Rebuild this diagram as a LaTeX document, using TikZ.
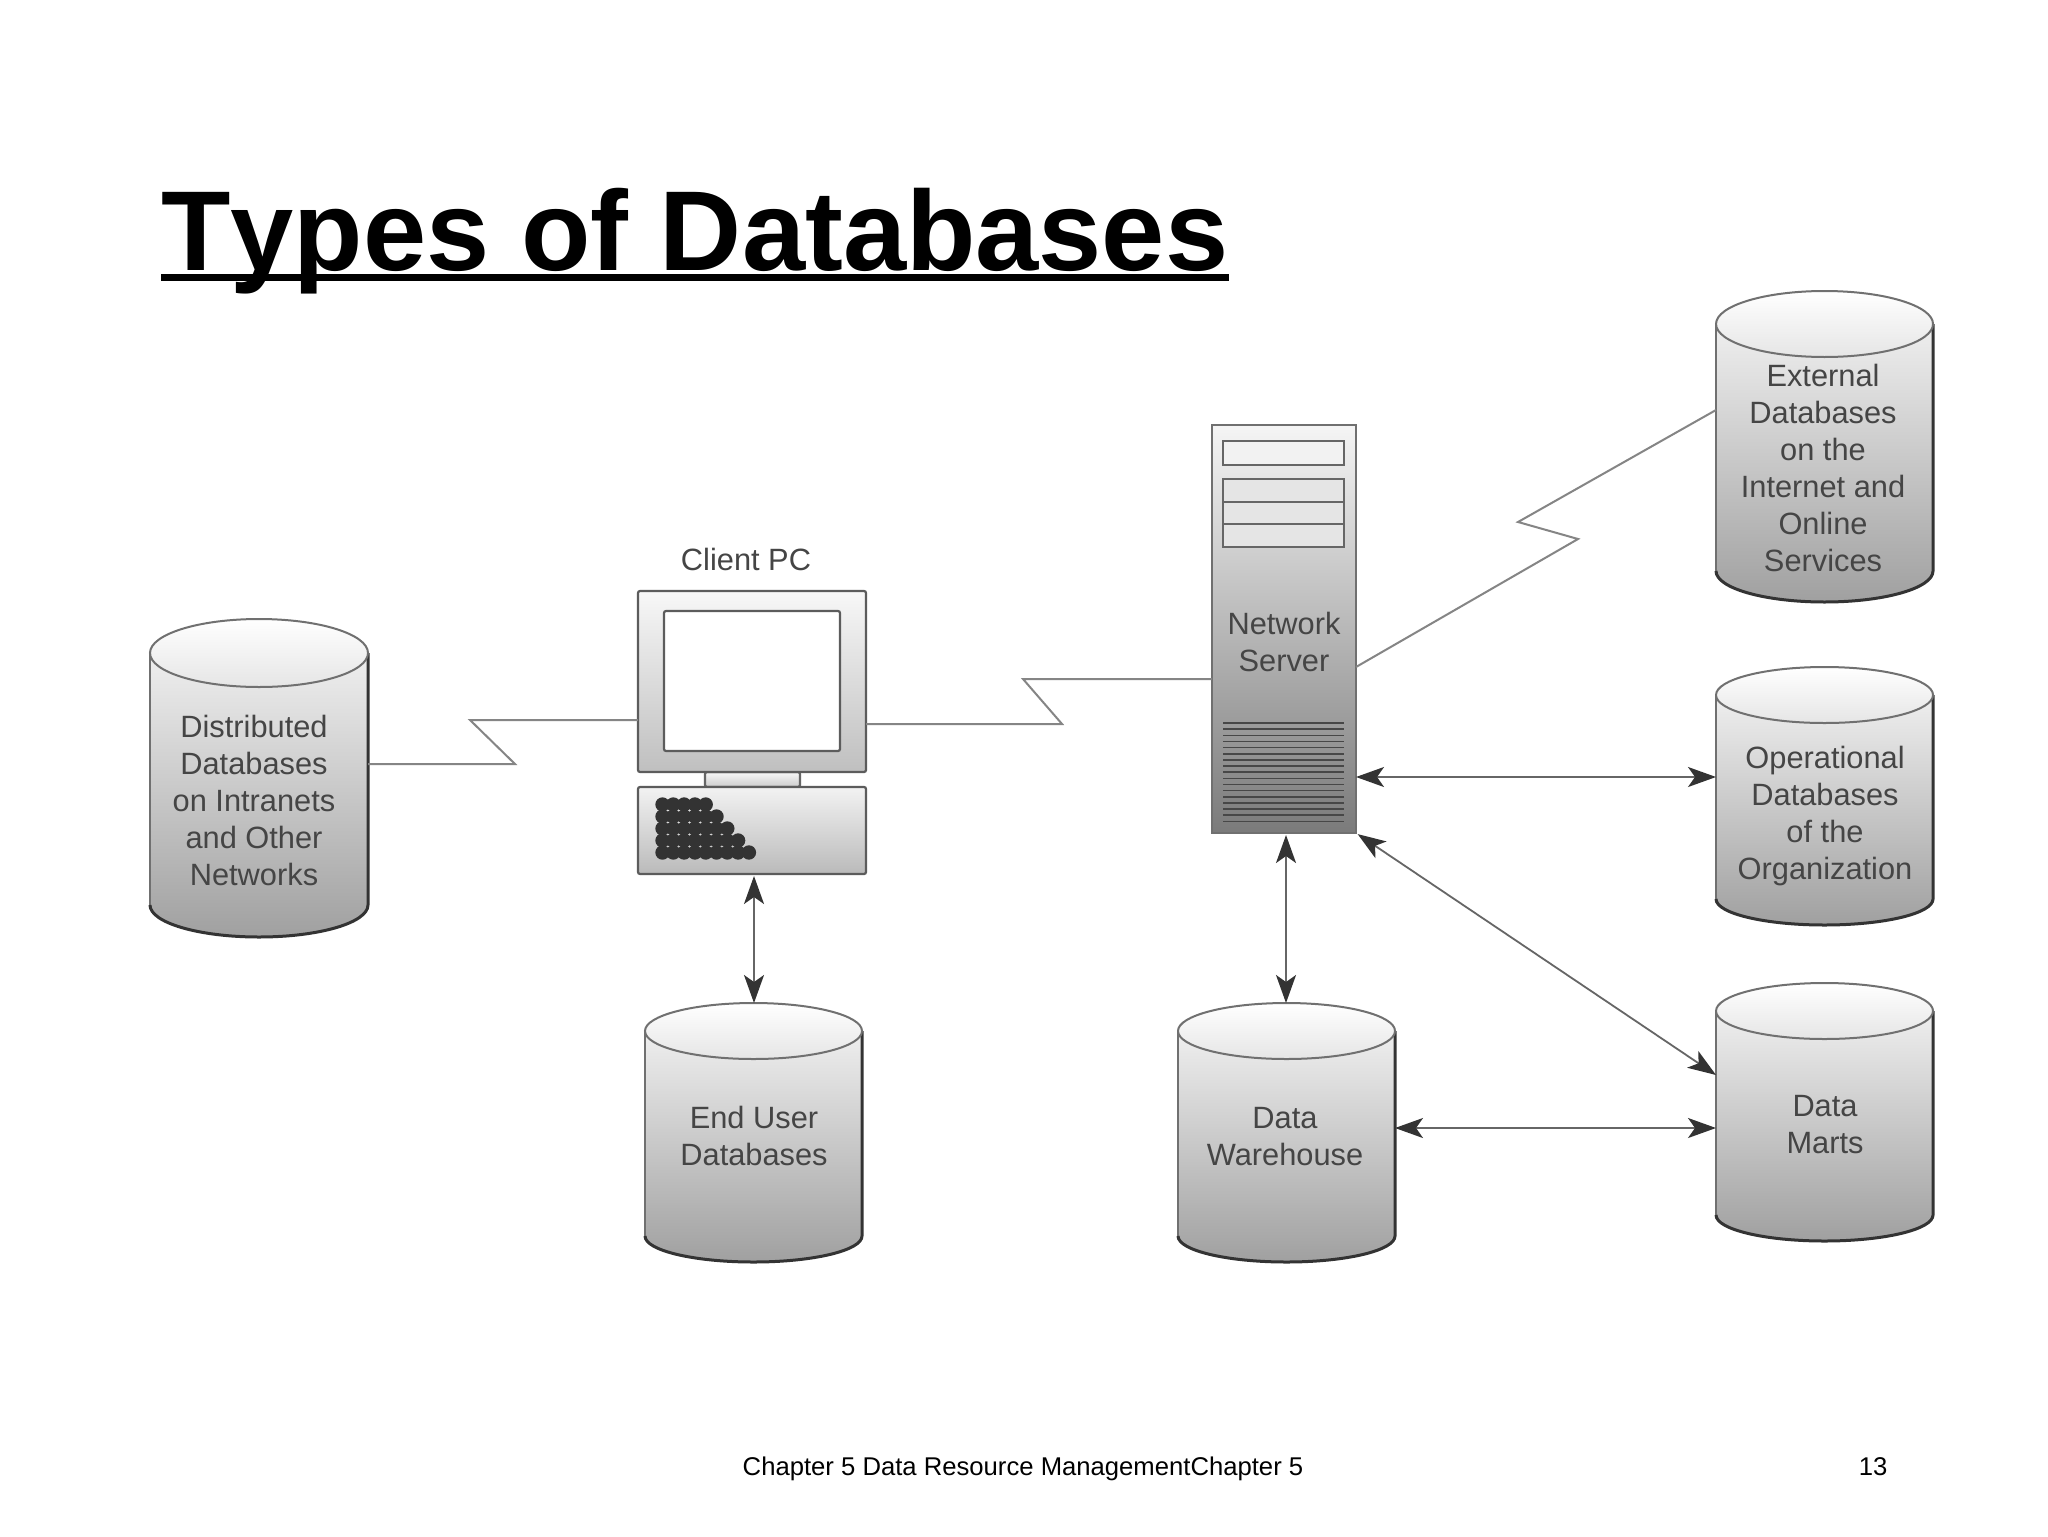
\documentclass[tikz,border=0pt]{standalone}
\usepackage{fontspec}
\setmainfont{Liberation Sans}
\newfontfamily\titlefont[Kerning=Off]{Liberation Sans}
\usetikzlibrary{arrows.meta}
\definecolor{lbl}{HTML}{454545}
\definecolor{edge}{HTML}{707070}
\definecolor{dark}{HTML}{333333}
\definecolor{bodytop}{HTML}{EFEFEF}
\definecolor{bodybot}{HTML}{A0A0A0}
\tikzset{
  lab/.style={font=\fontsize{15.4}{18.5}\selectfont,text=lbl,align=center,inner sep=0pt},
  zig/.style={draw=edge!85,line width=1pt,line join=miter},
  biarrow/.style={draw=black!60,line width=.9pt,{Stealth[length=14pt,width=10pt,inset=3.5pt,color=dark]}-{Stealth[length=14pt,width=10pt,inset=3.5pt,color=dark]}},
  anchorbox/.style={inner sep=0pt,outer sep=0pt,rectangle},
  hw/.style={anchorbox,draw=dark!80,line width=1.1pt,rounded corners=1pt},
  innerbox/.style={draw=dark!75,line width=1pt},
}
% name, x1, x2, top, bottom, ry, text x, text y, text
\newcommand{\dbcyl}[9]{%
  \pgfmathsetmacro{\xm}{(#2+#3)/2}%
  \pgfmathsetmacro{\rx}{(#3-#2)/2}%
  \pgfmathsetmacro{\ym}{#4+#6}%
  \pgfmathsetmacro{\ys}{#5-#6+2}%
  \pgfmathsetmacro{\rb}{#6-2}%
  \pgfmathsetmacro{\cxl}{\xm-0.5523*\rx}%
  \pgfmathsetmacro{\cxr}{\xm+0.5523*\rx}%
  \pgfmathsetmacro{\cyb}{\ys+0.5523*\rb}%
  \pgfmathsetmacro{\cyt}{\ym-0.5523*#6}%
  \pgfmathsetmacro{\cyi}{\ym+0.5523*#6}%
  \pgfmathsetmacro{\yi}{\ym+#6}%
  \shade[top color=bodytop,bottom color=bodybot]
    (#2,\ym) -- (#2,\ys) .. controls (#2,\cyb) and (\cxl,#5) .. (\xm,#5)
    .. controls (\cxr,#5) and (#3,\cyb) .. (#3,\ys) -- (#3,\ym) -- cycle;
  \draw[edge,line width=1pt] (#2,\ym) -- (#2,\ys);
  \draw[dark,line width=1.5pt] (#3,\ym) -- (#3,\ys) .. controls (#3,\cyb) and (\cxr,#5) .. (\xm,#5)
    .. controls (\cxl,#5) and (#2,\cyb) .. (#2,\ys);
  \shade[top color=white,bottom color=black!10,draw=edge,line width=1pt]
    (#2,\ym) .. controls (#2,\cyt) and (\cxl,#4) .. (\xm,#4)
    .. controls (\cxr,#4) and (#3,\cyt) .. (#3,\ym)
    .. controls (#3,\cyi) and (\cxr,\yi) .. (\xm,\yi)
    .. controls (\cxl,\yi) and (#2,\cyi) .. (#2,\ym) -- cycle;
  \node[anchorbox,minimum width={(#3-#2)*0.5pt},minimum height={(#5-#4)*0.5pt}] (#1) at (\xm,{(#4+#5)/2}) {};
  \node[lab] (#1 label) at (#7,#8) {#9};
}
\begin{document}
\begin{tikzpicture}[x=0.5pt,y=-0.5pt]
\path[use as bounding box,fill=white] (0,0) rectangle (2048,1536);

% title
\node[anchor=base west,inner sep=0pt,font=\titlefont\fontsize{56.8}{60}\bfseries\selectfont] (title) at (161,270) {Types of Databases};
\draw[line width=3.5pt] (title.base west |- 0,277) -- (title.base east |- 0,277);

% cylinders
\dbcyl{dist}{150}{368}{619}{937}{34}{254}{800}{Distributed\\Databases\\on Intranets\\and Other\\Networks}
\dbcyl{ext}{1716}{1933}{291}{602}{33}{1823}{468}{External\\Databases\\on the\\Internet and\\Online\\Services}
\dbcyl{oper}{1716}{1933}{667}{925}{28}{1825}{816}{Operational\\Databases\\of the\\Organization}
\dbcyl{marts}{1716}{1933}{983}{1241}{28}{1825}{1125}{Data\\Marts}
\dbcyl{enduser}{645}{862}{1003}{1262}{28}{754}{1136}{End User\\Databases}
\dbcyl{wareh}{1178}{1395}{1003}{1262}{28}{1285}{1137}{Data\\Warehouse}

% client PC
\node[lab] (clientlabel) at (746,559) {Client PC};
\node[hw,top color=black!3,bottom color=black!20,minimum width=47.5pt,minimum height=7.5pt] (neck) at (752.5,779.5) {};
\draw[innerbox] (neck.north west) -- (neck.south west) (neck.north east) -- (neck.south east);
\node[hw,top color=black!3,bottom color=black!25,minimum width=114pt,minimum height=90.5pt] (monitor) at (752,681.5) {};
\node[hw,fill=white,minimum width=88pt,minimum height=70pt] (screen) at (752,681) {};
\node[hw,top color=black!5,bottom color=black!27,minimum width=114pt,minimum height=43.5pt] (keyboard) at (752,830.5) {};
\foreach \r/\n in {0/5,1/6,2/7,3/8,4/9}{
  \foreach \i in {1,...,\n}{
    \fill[dark] ({662.5+(\i-1)*10.8},{804.5+\r*12}) circle (3.6pt);
  }
}

% server
\node[hw,rounded corners=0pt,draw=edge,top color=black!4,bottom color=black!52,minimum width=72pt,minimum height=204pt] (server) at (1284,629) {};
\node[anchorbox,innerbox,fill=black!5,minimum width=60.5pt,minimum height=12pt] (bay) at (1283.5,453) {};
\node[anchorbox,innerbox,fill=black!10,minimum width=60.5pt,minimum height=34pt] (bays) at (1283.5,513) {};
\draw[innerbox] (bays.west |- 0,502) -- (bays.east |- 0,502) (bays.west |- 0,524) -- (bays.east |- 0,524);
\foreach \i in {0,...,16}{
  \draw[dark!90,line width=.8pt] (1223,{723+\i*6.15}) -- (1344,{723+\i*6.15});
}
\node[lab] (serverlabel) at (1284,642) {Network\\Server};

% zigzag links
\coordinate (za) at (515,764);
\coordinate (zb) at (470,720);
\draw[zig] (dist.east |- za) -- (za) -- (zb) -- (monitor.west |- zb);
\coordinate (zc) at (1062,724);
\coordinate (zd) at (1023,679);
\draw[zig] (monitor.east |- zc) -- (zc) -- (zd) -- (server.west |- zd);
\coordinate (ze0) at (1356,667);
\coordinate (ze) at (1578,539);
\coordinate (zf) at (1518,522);
\coordinate (zf1) at (1716,410);
\draw[zig] (server.east |- ze0) -- (ze) -- (zf) -- (ext.west |- zf1);

% arrows
\coordinate (aop) at (1500,777);
\draw[biarrow] (server.east |- aop) -- (oper.west |- aop);
\coordinate (amart) at (1600,1075);
\draw[biarrow,shorten <=1pt] (server.south east) -- (marts.west |- amart);
\coordinate (aser) at (1286,900);
\draw[biarrow,shorten <=1pt] (server.south -| aser) -- (wareh.north -| aser);
\coordinate (apc) at (754,900);
\draw[biarrow,shorten <=1pt] (keyboard.south -| apc) -- (enduser.north -| apc);
\coordinate (awh) at (1500,1128);
\draw[biarrow] (wareh.east |- awh) -- (marts.west |- awh);

% footer
\node[anchor=base,inner sep=0pt,font=\fontsize{12.83}{15}\selectfont] (foot) at (1023,1475) {Chapter 5 Data Resource ManagementChapter 5};
\node[anchor=base,inner sep=0pt,font=\fontsize{12.83}{15}\selectfont] (pagenum) at (1873,1475) {13};
\end{tikzpicture}
\end{document}
